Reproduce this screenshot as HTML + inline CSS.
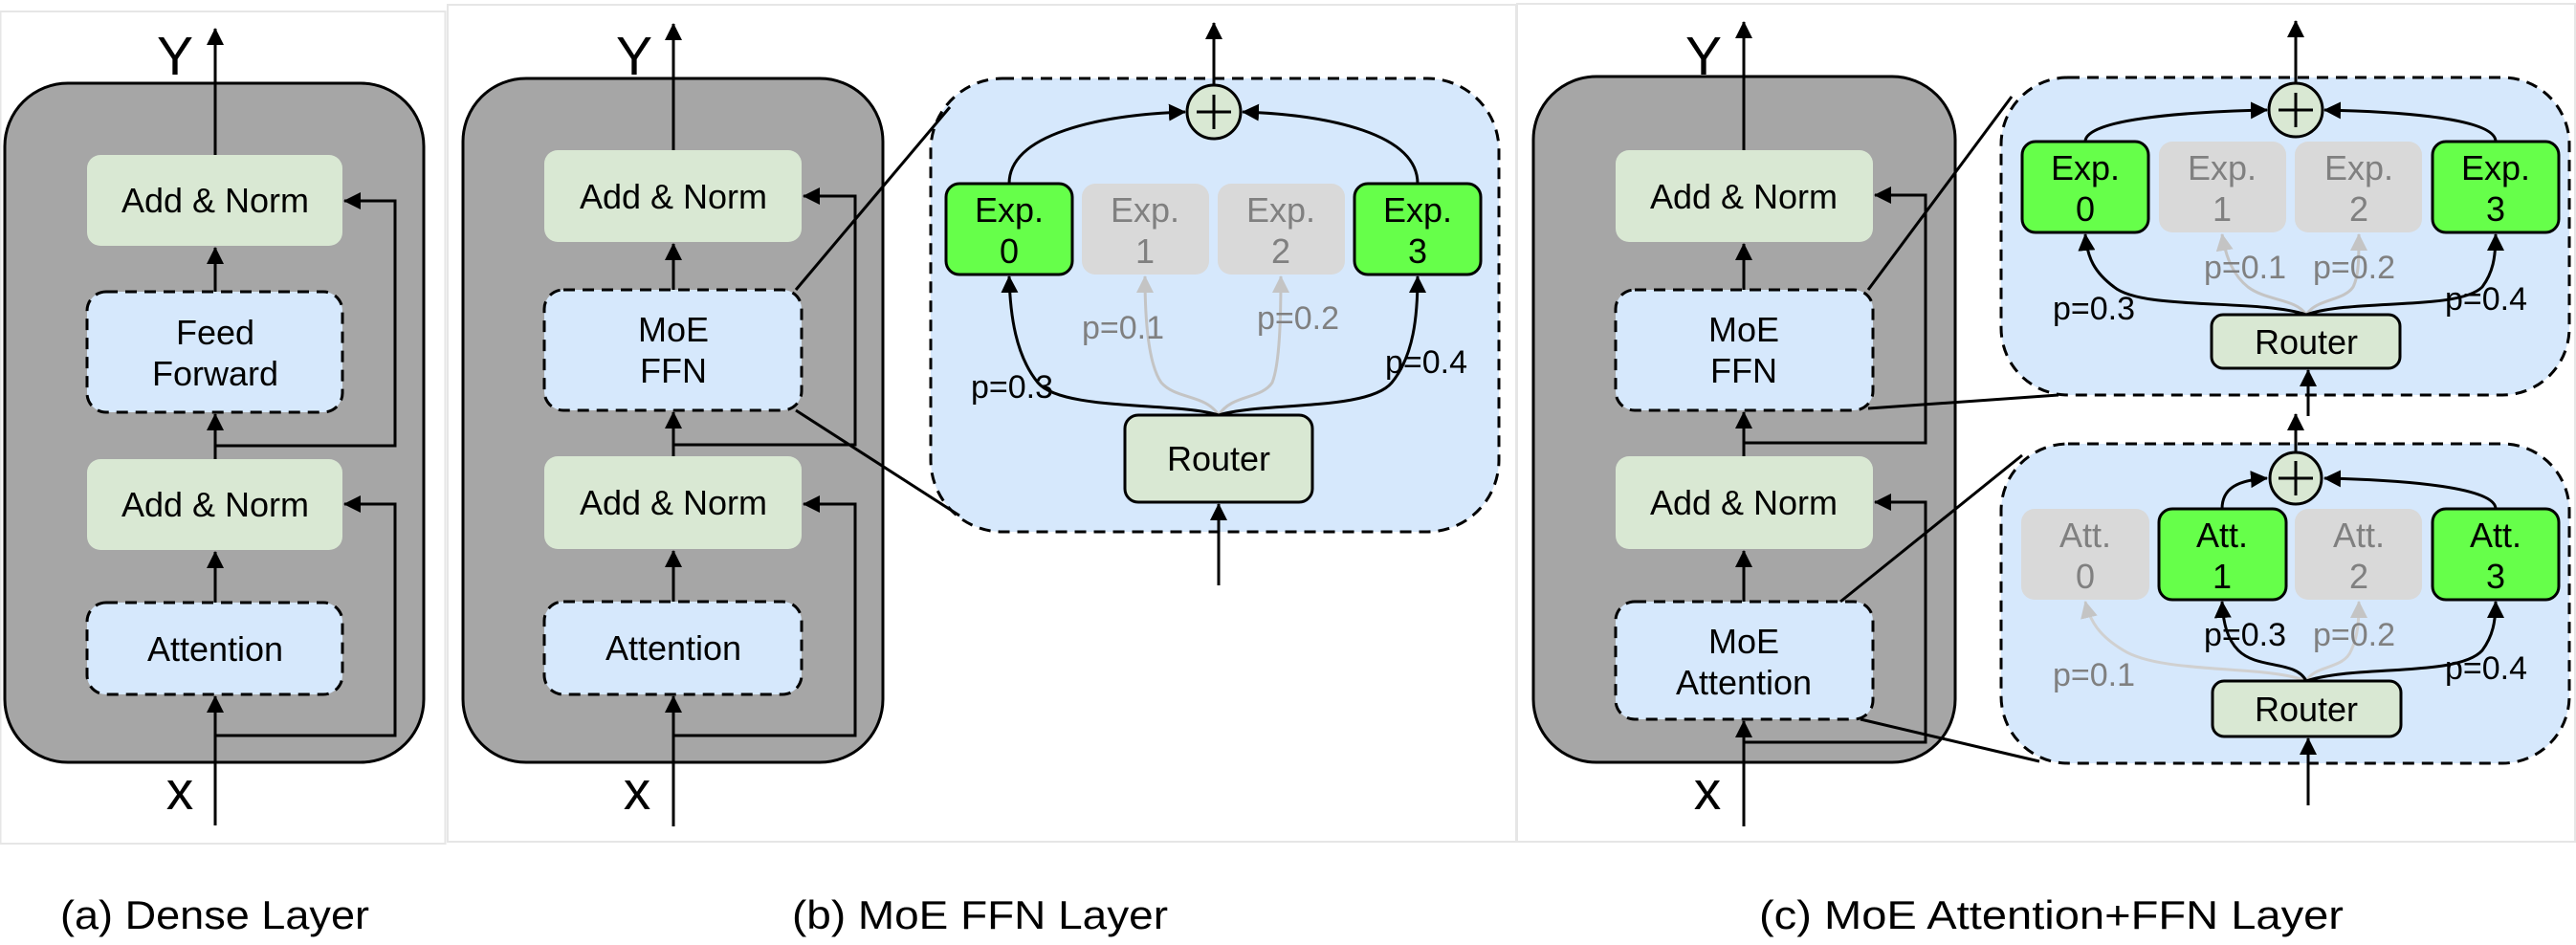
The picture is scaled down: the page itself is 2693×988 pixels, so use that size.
<!DOCTYPE html>
<html><head><meta charset="utf-8"><style>
html,body{margin:0;padding:0;background:#fff}
svg{display:block}
text{font-family:"Liberation Sans",Arial,sans-serif}
</style></head><body>
<svg width="2693" height="988" viewBox="0 0 2693 988" xmlns="http://www.w3.org/2000/svg">
<defs>
<marker id="a" markerUnits="userSpaceOnUse" markerWidth="20" markerHeight="20" refX="17" refY="9" orient="auto"><path d="M0,0 L18,9 L0,18z" fill="#000"/></marker>
<marker id="g" markerUnits="userSpaceOnUse" markerWidth="20" markerHeight="20" refX="17" refY="9" orient="auto"><path d="M0,0 L18,9 L0,18z" fill="#c4c4c4"/></marker>
</defs>

<rect x="0.5" y="12" width="465" height="870" fill="none" stroke="#e6e6e6" stroke-width="2"/>
<rect x="468" y="5" width="1117" height="875" fill="none" stroke="#e6e6e6" stroke-width="2"/>
<rect x="1586" y="4" width="1106" height="876" fill="none" stroke="#e6e6e6" stroke-width="2"/>

<g stroke="#000" stroke-width="3" fill="none">
<rect x="5" y="87" width="438" height="710" rx="66" fill="#a6a6a6"/>
<line x1="225" y1="162" x2="225" y2="30" marker-end="url(#a)"/>
<line x1="225" y1="305" x2="225" y2="259" marker-end="url(#a)"/>
<line x1="225" y1="480" x2="225" y2="433" marker-end="url(#a)"/>
<line x1="225" y1="630" x2="225" y2="577" marker-end="url(#a)"/>
<line x1="225" y1="863" x2="225" y2="728" marker-end="url(#a)"/>
<polyline points="225,466 413,466 413,210 360,210" marker-end="url(#a)"/>
<polyline points="225,769 413,769 413,527 360,527" marker-end="url(#a)"/>

<rect x="484" y="82" width="439" height="715" rx="66" fill="#a6a6a6"/>
<line x1="704" y1="157" x2="704" y2="25" marker-end="url(#a)"/>
<line x1="704" y1="303" x2="704" y2="255" marker-end="url(#a)"/>
<line x1="704" y1="477" x2="704" y2="431" marker-end="url(#a)"/>
<line x1="704" y1="629" x2="704" y2="576" marker-end="url(#a)"/>
<line x1="704" y1="864" x2="704" y2="728" marker-end="url(#a)"/>
<polyline points="704,465 894,465 894,205 840,205" marker-end="url(#a)"/>
<polyline points="704,769 894,769 894,527 840,527" marker-end="url(#a)"/>

<rect x="1603" y="80" width="441" height="717" rx="66" fill="#a6a6a6"/>
<line x1="1823" y1="157" x2="1823" y2="23" marker-end="url(#a)"/>
<line x1="1823" y1="303" x2="1823" y2="255" marker-end="url(#a)"/>
<line x1="1823" y1="477" x2="1823" y2="431" marker-end="url(#a)"/>
<line x1="1823" y1="629" x2="1823" y2="576" marker-end="url(#a)"/>
<line x1="1823" y1="864" x2="1823" y2="754" marker-end="url(#a)"/>
<polyline points="1823,463 2013,463 2013,204 1960,204" marker-end="url(#a)"/>
<polyline points="1823,776 2013,776 2013,525 1960,525" marker-end="url(#a)"/>
</g>

<g stroke-width="3">
<rect x="91" y="162" width="267" height="95" rx="14" fill="#d9e8d3"/>
<rect x="91" y="305" width="267" height="126" rx="20" fill="#d6e8fc" stroke="#000" stroke-dasharray="12,8"/>
<rect x="91" y="480" width="267" height="95" rx="14" fill="#d9e8d3"/>
<rect x="91" y="630" width="267" height="96" rx="20" fill="#d6e8fc" stroke="#000" stroke-dasharray="12,8"/>

<rect x="569" y="157" width="269" height="96" rx="14" fill="#d9e8d3"/>
<rect x="569" y="303" width="269" height="126" rx="20" fill="#d6e8fc" stroke="#000" stroke-dasharray="12,8"/>
<rect x="569" y="477" width="269" height="97" rx="14" fill="#d9e8d3"/>
<rect x="569" y="629" width="269" height="97" rx="20" fill="#d6e8fc" stroke="#000" stroke-dasharray="12,8"/>

<rect x="1689" y="157" width="269" height="96" rx="14" fill="#d9e8d3"/>
<rect x="1689" y="303" width="269" height="126" rx="20" fill="#d6e8fc" stroke="#000" stroke-dasharray="12,8"/>
<rect x="1689" y="477" width="269" height="97" rx="14" fill="#d9e8d3"/>
<rect x="1689" y="629" width="269" height="123" rx="20" fill="#d6e8fc" stroke="#000" stroke-dasharray="12,8"/>
</g>

<g font-size="36" text-anchor="middle" fill="#000">
<text x="225" y="222">Add &amp; Norm</text>
<text x="225" y="360">Feed</text>
<text x="225" y="403">Forward</text>
<text x="225" y="540">Add &amp; Norm</text>
<text x="225" y="691">Attention</text>

<text x="704" y="218">Add &amp; Norm</text>
<text x="704" y="357">MoE</text>
<text x="704" y="400">FFN</text>
<text x="704" y="538">Add &amp; Norm</text>
<text x="704" y="690">Attention</text>

<text x="1823" y="218">Add &amp; Norm</text>
<text x="1823" y="357">MoE</text>
<text x="1823" y="400">FFN</text>
<text x="1823" y="538">Add &amp; Norm</text>
<text x="1823" y="683">MoE</text>
<text x="1823" y="726">Attention</text>
</g>
<g font-size="57" text-anchor="middle" fill="#000">
<text x="183" y="78">Y</text>
<text x="188" y="846">x</text>
<text x="663" y="78">Y</text>
<text x="666" y="846">x</text>
<text x="1781" y="78">Y</text>
<text x="1785" y="846">x</text>
</g>

<rect x="973" y="82" width="594" height="474" rx="75" fill="#d6e8fc" stroke="#000" stroke-width="3" stroke-dasharray="12,8"/>
<g stroke="#000" stroke-width="3" fill="none">
<line x1="832" y1="303" x2="993" y2="112"/>
<line x1="832" y1="429" x2="1003" y2="539"/>
<line x1="1269" y1="89" x2="1269" y2="24" marker-end="url(#a)"/>
<line x1="1274" y1="612" x2="1274" y2="527" marker-end="url(#a)"/>
<path d="M1055,192 C1055,140 1150,120 1239,117" marker-end="url(#a)"/>
<path d="M1482,192 C1482,140 1390,120 1299,117" marker-end="url(#a)"/>
</g>
<g stroke="#c4c4c4" stroke-width="3" fill="none">
<path d="M1274,434 C1260,412 1230,418 1214,400 C1200,380 1197,330 1197,289" marker-end="url(#g)"/>
<path d="M1274,434 C1288,412 1318,418 1330,400 C1338,380 1339,330 1339,289" marker-end="url(#g)"/>
</g>
<g stroke="#000" stroke-width="3" fill="none">
<path d="M1274,434 C1230,420 1110,430 1085,400 C1062,372 1056,330 1055,289" marker-end="url(#a)"/>
<path d="M1274,434 C1320,420 1430,430 1455,400 C1478,372 1482,330 1482,289" marker-end="url(#a)"/>
</g>
<circle cx="1269" cy="117" r="28" fill="#d9e8d3" stroke="#000" stroke-width="3"/>
<path d="M1269,99 V135 M1251,117 H1287" stroke="#000" stroke-width="3"/>
<rect x="989" y="192" width="132" height="95" rx="14" fill="#66ff4a" stroke="#000" stroke-width="3"/>
<rect x="1131" y="192" width="133" height="95" rx="14" fill="#d9d9d9"/>
<rect x="1273" y="192" width="133" height="95" rx="14" fill="#d9d9d9"/>
<rect x="1416" y="192" width="132" height="95" rx="14" fill="#66ff4a" stroke="#000" stroke-width="3"/>
<rect x="1176" y="434" width="196" height="91" rx="14" fill="#d9e8d3" stroke="#000" stroke-width="3"/>
<g font-size="36" text-anchor="middle">
<text x="1055" y="232">Exp.</text><text x="1055" y="275">0</text>
<text x="1197" y="232" fill="#808080">Exp.</text><text x="1197" y="275" fill="#808080">1</text>
<text x="1339" y="232" fill="#808080">Exp.</text><text x="1339" y="275" fill="#808080">2</text>
<text x="1482" y="232">Exp.</text><text x="1482" y="275">3</text>
<text x="1274" y="492" font-size="36">Router</text>
</g>
<g font-size="34">
<text x="1015" y="416">p=0.3</text>
<text x="1131" y="354" fill="#808080">p=0.1</text>
<text x="1314" y="344" fill="#808080">p=0.2</text>
<text x="1448" y="390">p=0.4</text>
</g>

<rect x="2092" y="81" width="594" height="332" rx="70" fill="#d6e8fc" stroke="#000" stroke-width="3" stroke-dasharray="12,8"/>
<g stroke="#000" stroke-width="3" fill="none">
<line x1="1953" y1="303" x2="2103" y2="101"/>
<line x1="1953" y1="427" x2="2152" y2="413"/>
<line x1="2400" y1="87" x2="2400" y2="22" marker-end="url(#a)"/>
<line x1="2413" y1="435" x2="2413" y2="387" marker-end="url(#a)"/>
<path d="M2180,148 C2180,125 2280,117 2370,115" marker-end="url(#a)"/>
<path d="M2609,148 C2609,125 2520,117 2430,115" marker-end="url(#a)"/>
</g>
<g stroke="#c4c4c4" stroke-width="3" fill="none">
<path d="M2411,329 C2400,312 2370,315 2350,300 C2335,288 2327,270 2323,245" marker-end="url(#g)"/>
<path d="M2411,329 C2422,312 2450,315 2460,300 C2466,288 2466,270 2466,245" marker-end="url(#g)"/>
</g>
<g stroke="#000" stroke-width="3" fill="none">
<path d="M2411,329 C2360,312 2240,325 2210,300 C2190,285 2182,270 2180,245" marker-end="url(#a)"/>
<path d="M2411,329 C2460,312 2570,325 2595,300 C2606,285 2609,270 2609,245" marker-end="url(#a)"/>
</g>
<circle cx="2400" cy="115" r="28" fill="#d9e8d3" stroke="#000" stroke-width="3"/>
<path d="M2400,97 V133 M2382,115 H2418" stroke="#000" stroke-width="3"/>
<rect x="2114" y="148" width="132" height="95" rx="14" fill="#66ff4a" stroke="#000" stroke-width="3"/>
<rect x="2257" y="148" width="133" height="95" rx="14" fill="#d9d9d9"/>
<rect x="2399" y="148" width="133" height="95" rx="14" fill="#d9d9d9"/>
<rect x="2543" y="148" width="132" height="95" rx="14" fill="#66ff4a" stroke="#000" stroke-width="3"/>
<rect x="2312" y="329" width="197" height="56" rx="12" fill="#d9e8d3" stroke="#000" stroke-width="3"/>
<g font-size="36" text-anchor="middle">
<text x="2180" y="188">Exp.</text><text x="2180" y="231">0</text>
<text x="2323" y="188" fill="#808080">Exp.</text><text x="2323" y="231" fill="#808080">1</text>
<text x="2466" y="188" fill="#808080">Exp.</text><text x="2466" y="231" fill="#808080">2</text>
<text x="2609" y="188">Exp.</text><text x="2609" y="231">3</text>
<text x="2411" y="370" font-size="36">Router</text>
</g>
<g font-size="34">
<text x="2146" y="334">p=0.3</text>
<text x="2304" y="291" fill="#808080">p=0.1</text>
<text x="2418" y="291" fill="#808080">p=0.2</text>
<text x="2556" y="324">p=0.4</text>
</g>

<rect x="2092" y="464" width="594" height="334" rx="70" fill="#d6e8fc" stroke="#000" stroke-width="3" stroke-dasharray="12,8"/>
<g stroke="#000" stroke-width="3" fill="none">
<line x1="1924" y1="629" x2="2114" y2="476"/>
<line x1="1945" y1="752" x2="2132" y2="796"/>
<line x1="2400" y1="472" x2="2400" y2="433" marker-end="url(#a)"/>
<line x1="2413" y1="842" x2="2413" y2="772" marker-end="url(#a)"/>
<path d="M2323,532 C2323,510 2340,502 2370,500" marker-end="url(#a)"/>
<path d="M2609,532 C2609,510 2520,502 2430,500" marker-end="url(#a)"/>
</g>
<g stroke="#d0d0d0" stroke-width="3" fill="none">
<path d="M2411,712 C2370,695 2260,705 2220,680 C2195,665 2185,650 2180,629" marker-end="url(#g)"/>
<path d="M2411,712 C2420,695 2450,700 2458,680 C2465,665 2466,650 2466,629" marker-end="url(#g)"/>
</g>
<g stroke="#000" stroke-width="3" fill="none">
<path d="M2411,712 C2400,690 2360,700 2340,680 C2328,668 2324,650 2323,629" marker-end="url(#a)"/>
<path d="M2411,712 C2460,695 2570,708 2595,680 C2606,665 2609,650 2609,629" marker-end="url(#a)"/>
</g>
<circle cx="2400" cy="500" r="27" fill="#d9e8d3" stroke="#000" stroke-width="3"/>
<path d="M2400,482 V518 M2382,500 H2418" stroke="#000" stroke-width="3"/>
<rect x="2113" y="532" width="134" height="95" rx="14" fill="#d9d9d9"/>
<rect x="2257" y="532" width="133" height="95" rx="14" fill="#66ff4a" stroke="#000" stroke-width="3"/>
<rect x="2399" y="532" width="133" height="95" rx="14" fill="#d9d9d9"/>
<rect x="2543" y="532" width="132" height="95" rx="14" fill="#66ff4a" stroke="#000" stroke-width="3"/>
<rect x="2313" y="712" width="197" height="58" rx="12" fill="#d9e8d3" stroke="#000" stroke-width="3"/>
<g font-size="36" text-anchor="middle">
<text x="2180" y="572" fill="#808080">Att.</text><text x="2180" y="615" fill="#808080">0</text>
<text x="2323" y="572">Att.</text><text x="2323" y="615">1</text>
<text x="2466" y="572" fill="#808080">Att.</text><text x="2466" y="615" fill="#808080">2</text>
<text x="2609" y="572">Att.</text><text x="2609" y="615">3</text>
<text x="2411" y="754" font-size="36">Router</text>
</g>
<g font-size="34">
<text x="2304" y="675">p=0.3</text>
<text x="2418" y="675" fill="#808080">p=0.2</text>
<text x="2146" y="717" fill="#808080">p=0.1</text>
<text x="2556" y="710">p=0.4</text>
</g>

<g font-size="42" fill="#000" font-family="'DejaVu Sans','Liberation Sans',sans-serif">
<text x="63" y="971" textLength="323" lengthAdjust="spacingAndGlyphs">(a) Dense Layer</text>
<text x="828" y="971" textLength="393" lengthAdjust="spacingAndGlyphs">(b) MoE FFN Layer</text>
<text x="1839" y="971" textLength="611" lengthAdjust="spacingAndGlyphs">(c) MoE Attention+FFN Layer</text>
</g>
</svg>
</body></html>
